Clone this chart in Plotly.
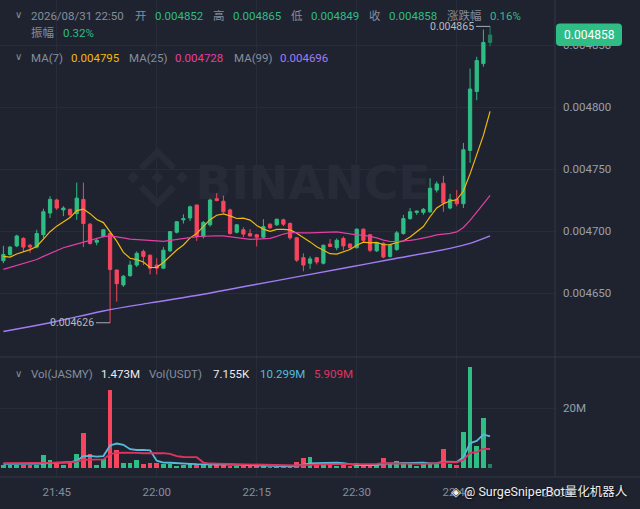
import plotly.graph_objects as go
import pandas as pd

# ---------------- data ----------------
# prices are in units of 0.000001 USDT, one candle per minute
start_time = "2026-08-31 21:37"
opens = [4676, 4681, 4688, 4694, 4688.5, 4687, 4697, 4714.5, 4725, 4717,
         4717.5, 4714, 4725.5, 4705.5, 4691, 4695.5, 4698, 4668.5, 4656.5, 4664,
         4672.5, 4683.5, 4680.5, 4672.5, 4670, 4684, 4699, 4709, 4710.5, 4721,
         4695.5, 4705, 4726, 4724, 4717, 4699, 4701, 4698, 4697, 4695,
         4705.5, 4705, 4709, 4706, 4694.5, 4678.5, 4674, 4678.5, 4674, 4689.5,
         4686.5, 4694, 4689.5, 4686.5, 4701.5, 4697, 4684, 4690, 4679.5, 4685,
         4698, 4710, 4715, 4715, 4715.5, 4733, 4738.5, 4718.5, 4725.5, 4722,
         4765, 4812.5, 4835, 4852]
highs = [4688, 4688, 4697, 4695, 4689.5, 4701, 4718, 4728, 4726, 4720,
         4718, 4739, 4739, 4706.5, 4694.5, 4701.5, 4699.5, 4669, 4664.5, 4676,
         4683.5, 4685, 4681, 4678, 4687, 4700, 4708, 4713.5, 4720.5, 4721,
         4708, 4726, 4730.5, 4728.5, 4718, 4705.5, 4703, 4701.5, 4697.5, 4709.5,
         4706, 4710, 4710, 4707, 4695, 4682, 4679.5, 4679, 4689, 4693.5,
         4694, 4695.5, 4690, 4702, 4702, 4697.5, 4691, 4691, 4689.5, 4700,
         4713, 4718.5, 4716.5, 4718.5, 4742.5, 4740, 4744.5, 4730, 4733, 4771,
         4831, 4840.5, 4862.5, 4865]
lows = [4674, 4680, 4687, 4683, 4682.5, 4686, 4694, 4710.5, 4717, 4712,
        4711, 4709, 4687, 4689, 4688.5, 4695, 4626, 4643, 4655, 4663,
        4671, 4672.5, 4665, 4665, 4669.5, 4683, 4698, 4706, 4708, 4692,
        4694, 4703.5, 4724, 4714.5, 4697, 4698, 4695, 4695.5, 4687.5, 4694,
        4702, 4704, 4704, 4693, 4675, 4667.5, 4669.5, 4673, 4673, 4687,
        4684.5, 4684.5, 4685, 4686, 4691, 4683, 4683, 4678, 4678.5, 4684,
        4697, 4709, 4713, 4713, 4714.5, 4731, 4715.5, 4717.5, 4720, 4718.5,
        4755, 4805.5, 4832.5, 4849]
closes = [4681, 4687, 4696, 4687, 4687, 4698, 4715.5, 4725.5, 4718.5, 4718.5,
          4713, 4726.5, 4706, 4690, 4692.5, 4701, 4669, 4657.5, 4663.5, 4672.5,
          4682, 4679.5, 4670, 4670, 4684.5, 4699.5, 4707.5, 4710, 4719.5, 4695.5,
          4707, 4725, 4724.5, 4715.5, 4698, 4705, 4697.5, 4696, 4695, 4703.5,
          4702.5, 4709.5, 4705.5, 4694.5, 4676.5, 4672.5, 4677.5, 4675, 4688.5, 4687.5,
          4692.5, 4688, 4686.5, 4701.5, 4692.5, 4684.5, 4690.5, 4679, 4688.5, 4698.5,
          4710, 4715.5, 4716, 4717.5, 4734.5, 4738, 4722.5, 4725.5, 4722, 4765.5,
          4814.5, 4837.5, 4852, 4858]
volumes = [1.0, 0.9, 1.0, 0.9, 0.9, 1.1, 4.4, 2.7, 1.6, 1.1,
           1.6, 4.7, 11.8, 4.7, 1.0, 2.9, 26.0, 6.0, 1.6, 1.8,
           2.7, 1.4, 1.8, 1.8, 1.4, 1.3, 0.7, 1.0, 1.8, 1.0,
           1.2, 1.4, 1.0, 1.0, 0.7, 0.8, 0.8, 0.7, 0.7, 0.7,
           0.3, 0.3, 0.5, 0.7, 2.0, 3.2, 3.8, 1.0, 1.0, 0.9,
           0.4, 0.9, 0.7, 1.8, 1.0, 1.0, 1.0, 3.5, 1.4, 2.4,
           2.1, 1.3, 0.7, 1.3, 1.8, 1.6, 6.3, 1.4, 1.0, 12.0,
           33.7, 7.3, 16.7, 1.473]   # million JASMY

ma7_head = [4679.5, 4679.0, 4681.5, 4683.0, 4685.0, 4687.5]
ma25_head = [4669, 4670.5, 4672, 4673.5, 4675, 4677, 4679.5, 4682, 4684.5, 4686.5,
             4688, 4689.5, 4691, 4693, 4694.5, 4695.5, 4696, 4695.5, 4694.5, 4693.5,
             4693, 4692.5, 4692, 4692]
ma99_index = [0, 7, 15, 22, 30, 37, 45, 52, 58, 67, 70, 73]
ma99_values = [4619, 4626, 4635.5, 4642, 4649, 4656, 4664, 4671, 4677, 4686, 4690, 4696]
vol_ma7_head = [1.4, 1.4, 1.4, 1.3, 1.3, 1.3]
vol_ma14_head = [1.6, 1.6, 1.6, 1.6, 1.6, 1.6, 1.7, 1.8, 1.8, 1.8, 1.9, 2.1, 2.7]

x_tick_labels = ["21:45", "22:00", "22:15", "22:30", "22:45"]
price_ticks = [4650, 4700, 4750, 4800, 4850]

header_row1 = [("2026/08/31 22:50", "g"), ("开", "g"), ("0.004852", "v"), ("高", "g"), ("0.004865", "v"),
               ("低", "g"), ("0.004849", "v"), ("收", "g"), ("0.004858", "v"), ("涨跌幅", "g"), ("0.16%", "v")]
header_row2 = [("振幅", "g"), ("0.32%", "v")]
ma_row = [("MA(7)", "g"), ("0.004795", "ma7"), ("MA(25)", "g"), ("0.004728", "ma25"),
          ("MA(99)", "g"), ("0.004696", "ma99")]
vol_row = [("Vol(JASMY)", "g"), ("1.473M", "w"), ("Vol(USDT)", "g"), ("7.155K", "w"),
           ("10.299M", "vma1"), ("5.909M", "vma2")]

# ---------------- styling ----------------
BG = "#1f2330"
GRID = "#282c38"
SEP = "#343845"
GREEN, RED, LAST_GREEN = "#2ebd85", "#f6465d", "#23805f"
C_MA7, C_MA25, C_MA99 = "#f0b90b", "#e23fa4", "#a27cf3"
C_VMA1, C_VMA2 = "#55bcdb", "#e0335f"
GRAY, WHITE = "#848e9c", "#eaecef"
FONT = "Roboto, 'Noto Sans CJK SC', sans-serif"
COLORS = {"g": GRAY, "v": GREEN, "w": WHITE, "ma7": C_MA7, "ma25": C_MA25, "ma99": C_MA99,
          "vma1": C_VMA1, "vma2": C_VMA2}

W, H = 640, 509
PLOT_R, PLOT_B, SPLIT = 555, 477, 357
PX_PER_MIN = 100 / 15
FIRST_X = 3.4
P = 1e-6


def fx(px):
    return px / PLOT_R


def fy(py):
    return (PLOT_B - py) / PLOT_B


def price_at(py):
    return (4800 - (py - 107) / 1.24) * P


def sma(vals, n, head):
    out = list(head)
    for i in range(len(head), len(vals)):
        out.append(sum(vals[i - n + 1:i + 1]) / n)
    return out


t0 = pd.Timestamp(start_time)
n = len(closes)
times = list(pd.date_range(t0, periods=n, freq="min"))
o = [v * P for v in opens]
h = [v * P for v in highs]
l = [v * P for v in lows]
c = [v * P for v in closes]

ma7 = [v * P for v in sma(closes, 7, ma7_head)]
ma25 = [v * P for v in sma(closes, 25, ma25_head)]
ma99_x = [times[i] for i in ma99_index]
ma99 = [v * P for v in ma99_values]
vma7 = sma(volumes, 7, vol_ma7_head)
vma14 = sma(volumes, 14, vol_ma14_head)

fig = go.Figure()


# candles (last one drawn darker, as in the reference)
def part(arr, keep_last):
    return [v if ((i == n - 1) == keep_last) else None for i, v in enumerate(arr)]


fig.add_trace(go.Candlestick(
    x=times, open=part(o, False), high=part(h, False), low=part(l, False), close=part(c, False),
    increasing=dict(line=dict(color=GREEN, width=1), fillcolor=GREEN),
    decreasing=dict(line=dict(color=RED, width=1), fillcolor=RED),
    whiskerwidth=0, hoverinfo="skip", showlegend=False, xaxis="x", yaxis="y"))
fig.add_trace(go.Candlestick(
    x=times, open=part(o, True), high=part(h, True), low=part(l, True), close=part(c, True),
    increasing=dict(line=dict(color=LAST_GREEN, width=1), fillcolor=LAST_GREEN),
    decreasing=dict(line=dict(color=RED, width=1), fillcolor=RED),
    whiskerwidth=0, hoverinfo="skip", showlegend=False, xaxis="x", yaxis="y"))

fig.add_trace(go.Scatter(x=times, y=ma7, mode="lines", line=dict(color=C_MA7, width=1.2),
                         hoverinfo="skip", showlegend=False))
fig.add_trace(go.Scatter(x=times, y=ma25, mode="lines", line=dict(color=C_MA25, width=1.2),
                         hoverinfo="skip", showlegend=False))
fig.add_trace(go.Scatter(x=ma99_x, y=ma99, mode="lines", line=dict(color=C_MA99, width=1.4, shape="spline"),
                         hoverinfo="skip", showlegend=False))

bar_colors = [GREEN if c[i] >= o[i] else RED for i in range(n)]
bar_colors[-1] = LAST_GREEN
fig.add_trace(go.Bar(x=times, y=volumes, marker=dict(color=bar_colors, line=dict(width=0)),
                     width=0.7 * 60000, xaxis="x2", yaxis="y2", hoverinfo="skip", showlegend=False))
fig.add_trace(go.Scatter(x=times, y=vma7, mode="lines", line=dict(color=C_VMA1, width=1.8),
                         xaxis="x2", yaxis="y2", hoverinfo="skip", showlegend=False))
fig.add_trace(go.Scatter(x=times, y=vma14, mode="lines", line=dict(color=C_VMA2, width=1.8),
                         xaxis="x2", yaxis="y2", hoverinfo="skip", showlegend=False))

x_left = t0 - pd.Timedelta(minutes=FIRST_X / PX_PER_MIN)
x_right = t0 + pd.Timedelta(minutes=(PLOT_R - FIRST_X) / PX_PER_MIN)
xticks = [pd.Timestamp(f"2026-08-31 {s}") for s in x_tick_labels]

common_x = dict(range=[x_left, x_right], showgrid=True, gridcolor=GRID, gridwidth=1,
                tickvals=xticks, zeroline=False, showline=False, ticks="", fixedrange=True)

fig.update_layout(
    width=W, height=H, paper_bgcolor=BG, plot_bgcolor=BG,
    margin=dict(l=0, r=W - PLOT_R, t=0, b=H - PLOT_B),
    font=dict(family=FONT, color=GRAY, size=11.5),
    boxmode="overlay", bargap=0, showlegend=False, hovermode=False,
    xaxis=dict(domain=[0, 1], anchor="y", showticklabels=False,
               rangeslider=dict(visible=False), **common_x),
    xaxis2=dict(domain=[0, 1], anchor="y2", matches="x", showticklabels=True,
                ticktext=x_tick_labels, tickfont=dict(size=11.5, color=GRAY),
                ticklabelstandoff=6, **common_x),
    yaxis=dict(domain=[fy(SPLIT), 1], range=[price_at(SPLIT), price_at(0)], side="right",
               tickvals=[v * P for v in price_ticks], ticktext=[f"{v * P:.6f}" for v in price_ticks],
               showgrid=True, gridcolor=GRID, zeroline=False, ticks="", ticklabelstandoff=7,
               tickfont=dict(size=11.5, color="#98a0aa"), fixedrange=True),
    yaxis2=dict(domain=[0, fy(SPLIT)], range=[-3, 37], side="right", tickvals=[20], ticktext=["20M"],
                showgrid=True, gridcolor=GRID, zeroline=False, ticks="", ticklabelstandoff=7,
                tickfont=dict(size=11.5, color="#98a0aa"), fixedrange=True),
)

shapes = []
# pane separators
for yy in (SPLIT, PLOT_B):
    shapes.append(dict(type="line", xref="paper", yref="paper", x0=0, x1=fx(W), y0=fy(yy), y1=fy(yy),
                       line=dict(color=SEP, width=1), layer="above"))
shapes.append(dict(type="line", xref="paper", yref="paper", x0=1, x1=1, y0=0, y1=1,
                   line=dict(color=SEP, width=1), layer="above"))


# faint BINANCE watermark (logo + word)
def poly(points, cx, cy):
    pts = [f"{fx(cx + dx):.5f},{fy(cy + dy):.5f}" for dx, dy in points]
    return "M" + " L".join(pts) + " Z"


LOGO = "#272b37"
cx, cy = 157.5, 177.5
diamond = [(0, -6), (6, 0), (0, 6), (-6, 0)]
logo_parts = [
    (diamond, cx, cy), (diamond, cx - 24.5, cy), (diamond, cx + 24.5, cy),
    ([(-18.5, 11.5), (0, 30), (18.5, 11.5), (14, 7), (0, 21), (-14, 7)], cx, cy),
    ([(-18.5, -11.5), (0, -30), (18.5, -11.5), (14, -7), (0, -21), (-14, -7)], cx, cy),
]
for pts, px0, py0 in logo_parts:
    shapes.append(dict(type="path", xref="paper", yref="paper", path=poly(pts, px0, py0),
                       fillcolor=LOGO, line=dict(width=0), layer="below"))
shapes.append(dict(type="rect", xref="paper", yref="paper", x0=fx(190), x1=fx(436), y0=fy(200), y1=fy(158),
                   line=dict(width=0), fillcolor="rgba(0,0,0,0)", layer="below",
                   label=dict(text="BINANCE", textposition="middle center",
                              font=dict(family="DejaVu Sans", size=47, color=LOGO, weight=700))))

# current price tag (rounded rectangle)
tag_y = closes[-1]
tag_py = 107 - (tag_y - 4800) * 1.24
x0t, x1t, y0t, y1t, r = 556, 622, tag_py - 11.5, tag_py + 11, 4
tag_path = (f"M{fx(x0t + r)},{fy(y0t)} L{fx(x1t - r)},{fy(y0t)} Q{fx(x1t)},{fy(y0t)} {fx(x1t)},{fy(y0t + r)} "
            f"L{fx(x1t)},{fy(y1t - r)} Q{fx(x1t)},{fy(y1t)} {fx(x1t - r)},{fy(y1t)} "
            f"L{fx(x0t + r)},{fy(y1t)} Q{fx(x0t)},{fy(y1t)} {fx(x0t)},{fy(y1t - r)} "
            f"L{fx(x0t)},{fy(y0t + r)} Q{fx(x0t)},{fy(y0t)} {fx(x0t + r)},{fy(y0t)} Z")
shapes.append(dict(type="path", xref="paper", yref="paper", path=tag_path, fillcolor=GREEN,
                   line=dict(width=0), layer="above"))
fig.update_layout(shapes=shapes)

ann = []


def row(items, x_positions, py, size=11.5):
    for (txt, key), xp in zip(items, x_positions):
        ann.append(dict(xref="paper", yref="paper", x=fx(xp), y=fy(py), text=txt, showarrow=False,
                        xanchor="left", yanchor="middle", borderpad=0,
                        font=dict(size=size, color=COLORS[key], family=FONT)))


for py in (16, 58, 374):
    ann.append(dict(xref="paper", yref="paper", x=fx(18), y=fy(py - 1), text="∨", showarrow=False,
                    xanchor="center", yanchor="middle", font=dict(size=10, color=GRAY, family="DejaVu Sans")))
row(header_row1, [30, 134, 154, 212, 232, 290, 310, 368, 388, 446, 489], 16)
row(header_row2, [30, 62], 33)
row(ma_row, [30, 70, 128, 174, 233, 279], 58)
row(vol_row, [30, 100, 148, 212, 259, 313], 374)

# price tag text
ann.append(dict(xref="paper", yref="y", x=fx((x0t + x1t) / 2), y=tag_y * P, text=f"{tag_y * P:.6f}",
                showarrow=False, xanchor="center", yanchor="middle",
                font=dict(size=12, color="#ffffff", family=FONT)))

# highest high / lowest low markers
i_hi = max(range(n), key=lambda i: highs[i])
i_lo = min(range(n), key=lambda i: lows[i])
for idx, val in ((i_hi, highs[i_hi]), (i_lo, lows[i_lo])):
    ann.append(dict(x=times[idx], y=val * P, xref="x", yref="y", text=f"{val * P:.6f}",
                    showarrow=True, arrowhead=0, arrowwidth=1, arrowcolor="#a7adb6", ax=-14, ay=0,
                    xanchor="right", standoff=0, font=dict(size=10.5, color="#b5bac2", family=FONT)))

# 23:00 tick label sits just past the plotting area, under the watermark
ann.append(dict(xref="paper", yref="paper", x=fx(556.7), y=fy(493), text="23:00", showarrow=False,
                xanchor="center", yanchor="middle", font=dict(size=11.5, color=GRAY, family=FONT)))

# bottom-right watermark
ann.append(dict(xref="paper", yref="paper", x=fx(449), y=fy(491), text="◈ @ SurgeSniperBot量化机器人",
                showarrow=False, xanchor="left", yanchor="middle",
                font=dict(size=12.5, color="#eeeeee", family=FONT, shadow="1px 1px 2px rgba(0,0,0,0.9)")))

fig.update_layout(annotations=ann)

fig.write_html("out.html", config={"displayModeBar": False},
               post_script="document.body.style.margin='0';document.body.style.background='#1f2330';")
